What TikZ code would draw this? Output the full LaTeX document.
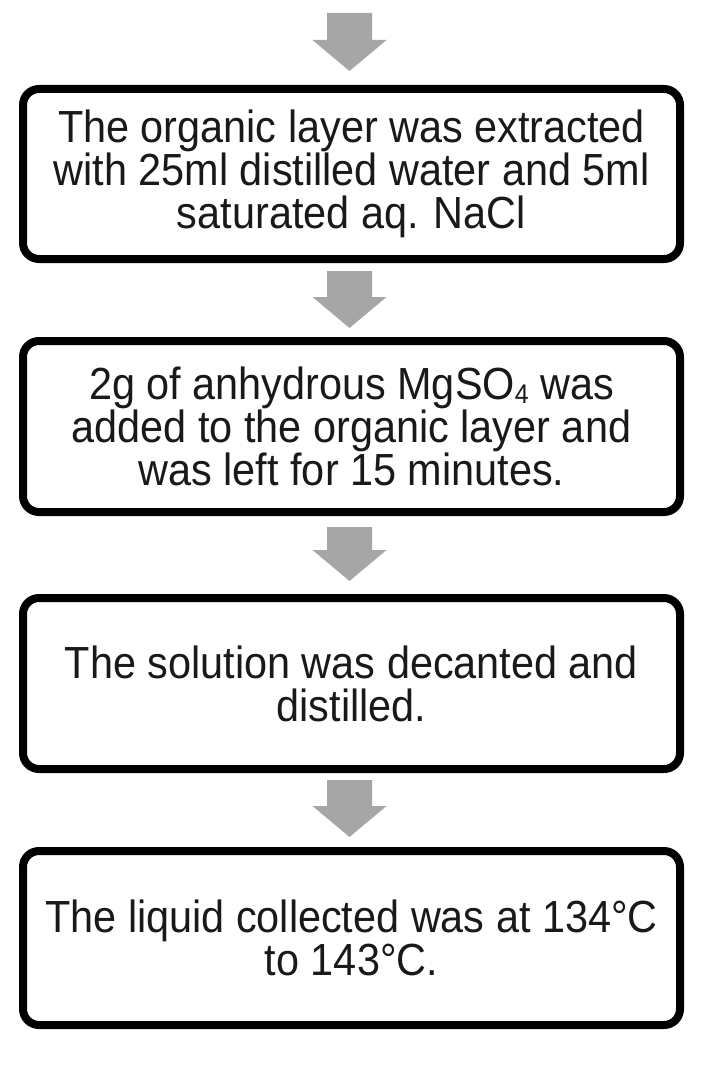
\documentclass[tikz,border=0pt]{standalone}
\usepackage{fontspec}
\setmainfont{Liberation Sans}[FakeStretch=0.92]
\usetikzlibrary{calc}
\tikzset{
  stepbox/.style={draw=black, line width=8pt, rounded corners=16pt, fill=white,
    minimum width=657pt, align=center, inner sep=0pt, text=black!90,
    font=\fontsize{45}{43}\selectfont},
  arrowfill/.style={fill=black!35},
}
\newcommand\subfour{\raisebox{-0.08em}{\fontsize{27}{27}\selectfont 4}}
\newcommand\blockarrow[2]{%
  \fill[arrowfill] let \p1=(#1), \p2=(#2) in
    (\x1-22.5pt,\y1) -- (\x1+22.5pt,\y1) -- (\x1+22.5pt,\y2+31pt) --
    (\x1+37pt,\y2+31pt) -- (\x1,\y2) -- (\x1-37pt,\y2+31pt) --
    (\x1-22.5pt,\y2+31pt) -- cycle;}
\begin{document}
\begin{tikzpicture}[x=1pt,y=-1pt]
\useasboundingbox (0,0) rectangle (708,1089);
\fill[white] (0,0) rectangle (708,1089);

\node[stepbox, minimum height=170pt] (b1) at (351.5,174)
  {The organic layer was extracted\\with 25ml distilled water and 5ml\\saturated aq. NaCl};
\node[stepbox, minimum height=171pt] (b2) at (351.5,426.5)
  {2g of anhydrous MgSO\subfour{} was\\added to the organic layer and\\was left for 15 minutes.};
\node[stepbox, minimum height=171pt] (b3) at (351.5,683.5)
  {The solution was decanted and\\distilled.};
\node[stepbox, minimum height=174pt] (b4) at (351.5,938)
  {The liquid collected was at 134°C\\to 143°C.};

\coordinate (a1s) at (349.5,13);
\coordinate (a1e) at ($(b1.north)+(-2,-14)$);
\coordinate (a2s) at ($(b1.south)+(-2,8)$);
\coordinate (a2e) at ($(b2.north)+(-2,-9)$);
\coordinate (a3s) at ($(b2.south)+(-2,11)$);
\coordinate (a3e) at ($(b3.north)+(-2,-13)$);
\coordinate (a4s) at ($(b3.south)+(-2,7)$);
\coordinate (a4e) at ($(b4.north)+(-2,-10)$);

\blockarrow{a1s}{a1e}
\blockarrow{a2s}{a2e}
\blockarrow{a3s}{a3e}
\blockarrow{a4s}{a4e}
\end{tikzpicture}
\end{document}
